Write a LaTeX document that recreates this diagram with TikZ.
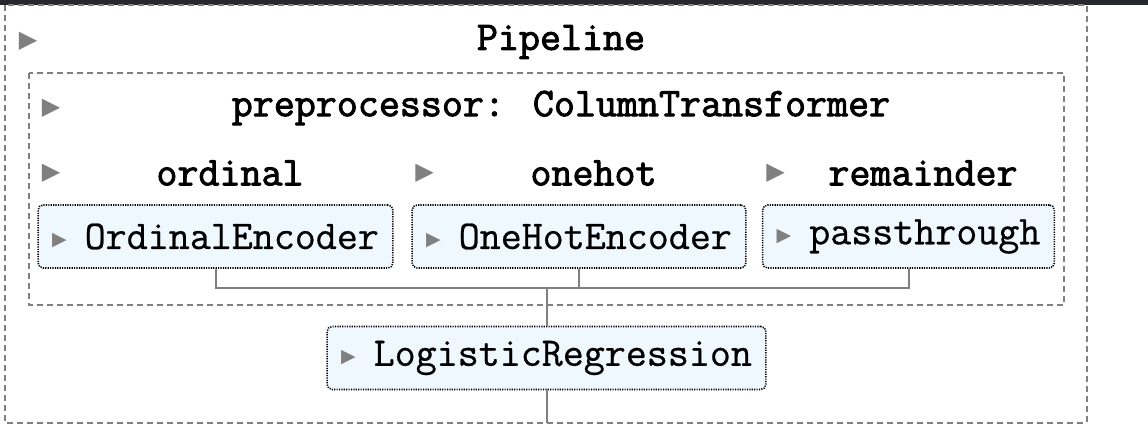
\documentclass[tikz,border=0pt]{standalone}
\usepackage{fontspec}
\newfontfamily\symfont{DejaVu Sans}
\newfontfamily\titlefont[FakeBold=2.2]{Latin Modern Mono}
\newfontfamily\estfont[FakeBold=0.6]{Latin Modern Mono}
\usepackage{xcolor}
\usepackage{tikz}
\usetikzlibrary{calc, positioning}

\definecolor{boxblue}{HTML}{F0F8FF}
\definecolor{linegray}{HTML}{808080}
\definecolor{topbar}{HTML}{26282D}

\newcommand{\bigtri}{{\symfont\fontsize{12}{12}\selectfont\color{linegray}▶}}
\newcommand{\smalltri}{\raisebox{1.5pt}{\symfont\fontsize{9.5}{9.5}\selectfont\color{linegray}▶}}

\begin{document}
\begin{tikzpicture}[x=0.5pt,y=-0.5pt,
                    dash box/.style={draw=linegray,line width=1pt,dash pattern=on 3pt off 2pt},
                    est node/.style={draw,fill=boxblue,line width=0.8pt,dash pattern=on 0.6pt off 0.6pt,
                                     rounded corners=2.5pt,font=\estfont\fontsize{20.4}{22}\selectfont,
                                     minimum height=31.5pt,inner xsep=7pt,inner ysep=0pt},
                    title/.style={font=\titlefont\fontsize{20.4}{22}\selectfont,inner sep=0pt},
                    link/.style={draw=linegray,line width=1pt}]
\useasboundingbox (0,0) rectangle (1148,426);
\fill[topbar] (0,0) rectangle (1148,5);

% frames
\draw[dash box] (4.5,5.5) rectangle (1086.5,423);
\draw[dash box] (29,73) rectangle (1064,305);

% headings
\node (PipeTri) at (28,41.5) {\bigtri};
\node[title] (PipeLabel) at (561,42) {Pipeline};
\node (PreTri) at (51,108) {\bigtri};
\node[title] (PreLabel) at (561,108) {preprocessor: ColumnTransformer};

\node (OrdTri) at (51,173) {\bigtri};
\node[title] (OrdLabel) at (230,173) {ordinal};
\node (HotTri) at (424.5,173) {\bigtri};
\node[title] (HotLabel) at (593.5,173) {onehot};
\node (RemTri) at (775.5,173) {\bigtri};
\node[title] (RemLabel) at (923,173) {remainder};

% estimators
\node[est node] (Ord) at (215.5,236.5) {\smalltri\hspace{9pt}OrdinalEncoder};
\node[est node] (Hot) at (579,236.5) {\smalltri\hspace{9pt}OneHotEncoder};
\node[est node] (Pass) at (908.5,236.5) {\smalltri\hspace{9pt}passthrough};
\node[est node] (LogReg) at (546.5,358) {\smalltri\hspace{9pt}LogisticRegression};

\coordinate (Join) at (546.5,288);
\coordinate (Out) at (546.5,423);

\draw[link] (Ord.south) |- (Join) -| (Pass.south);
\draw[link] (Hot.south) -- (Hot.south |- Join);
\draw[link] (Join) -- (LogReg.north);
\draw[link] (LogReg.south) -- (Out);
\end{tikzpicture}
\end{document}
